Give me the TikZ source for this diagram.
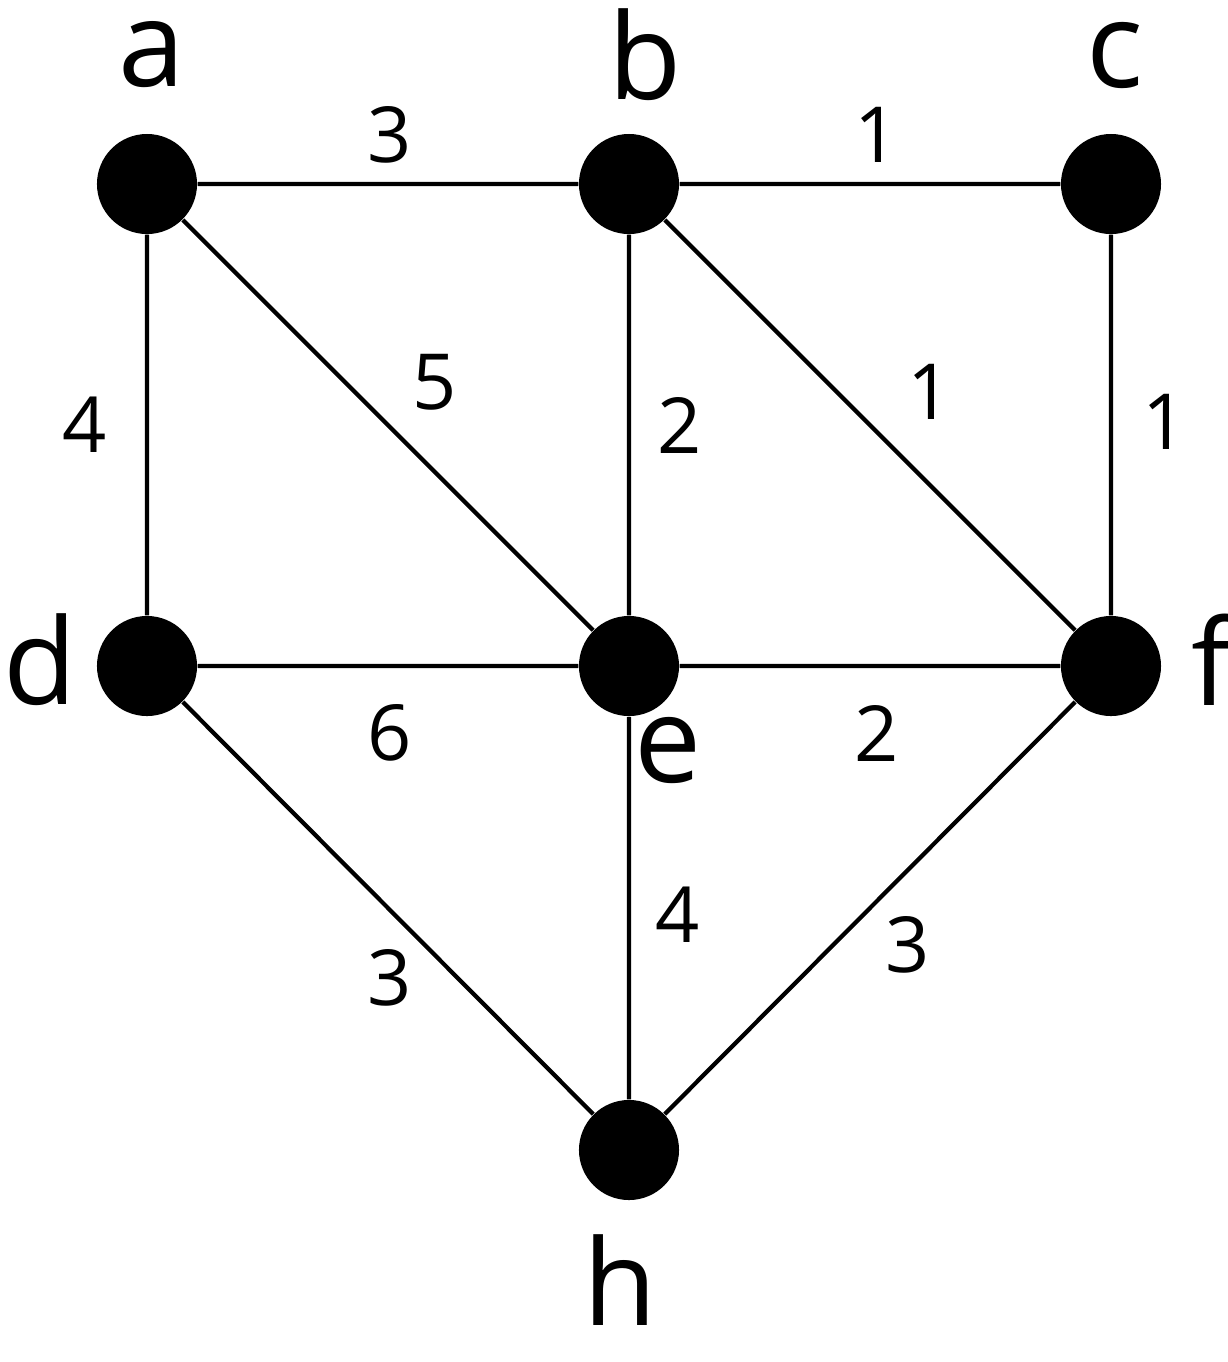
\documentclass[tikz,border=0pt]{standalone}
\usepackage{fontspec}
\setmainfont{Open Sans}
\begin{document}
\begin{tikzpicture}[x=0.01cm,y=-0.01cm,
  vert/.style={circle,fill=black,minimum size=1cm,inner sep=0},
  edge/.style={line width=1.2pt},
  vlab/.style={font=\fontsize{34}{36}\selectfont},
  wlab/.style={font=\fontsize{22}{24}\selectfont}]
\useasboundingbox (0,0) rectangle (1228,1362);
\fill[white] (0,0) rectangle (1228,1362);
\node[vert] (a) at (147,184) {};
\node[vert] (b) at (629,184) {};
\node[vert] (c) at (1111,184) {};
\node[vert] (d) at (147,666) {};
\node[vert] (e) at (629,666) {};
\node[vert] (f) at (1111,666) {};
\node[vert] (h) at (629,1150) {};
\draw[edge] (a)--(b) (b)--(c) (a)--(d) (a)--(e) (b)--(e) (b)--(f) (c)--(f)
  (d)--(e) (e)--(f) (d)--(h) (e)--(h) (f)--(h);
\node[vlab] (la) at (152,55) {a};
\node[vlab] (lb) at (645,55) {b};
\node[vlab] (lc) at (1115,55) {c};
\node[vlab] (ld) at (40,660) {d};
\node[vlab] (le) at (668,750) {e};
\node[vlab] (lf) at (1212,660) {f};
\node[vlab] (lh) at (620,1280) {h};
\node[wlab] (w1) at (390,135) {3};
\node[wlab] (w2) at (877,135) {1};
\node[wlab] (w3) at (85,425) {4};
\node[wlab] (w4) at (435,382) {5};
\node[wlab] (w5) at (680,425) {2};
\node[wlab] (w6) at (930,392) {1};
\node[wlab] (w7) at (1165,422) {1};
\node[wlab] (w8) at (390,733) {6};
\node[wlab] (w9) at (877,733) {2};
\node[wlab] (w10) at (678,915) {4};
\node[wlab] (w11) at (390,978) {3};
\node[wlab] (w12) at (908,945) {3};
\end{tikzpicture}
\end{document}
